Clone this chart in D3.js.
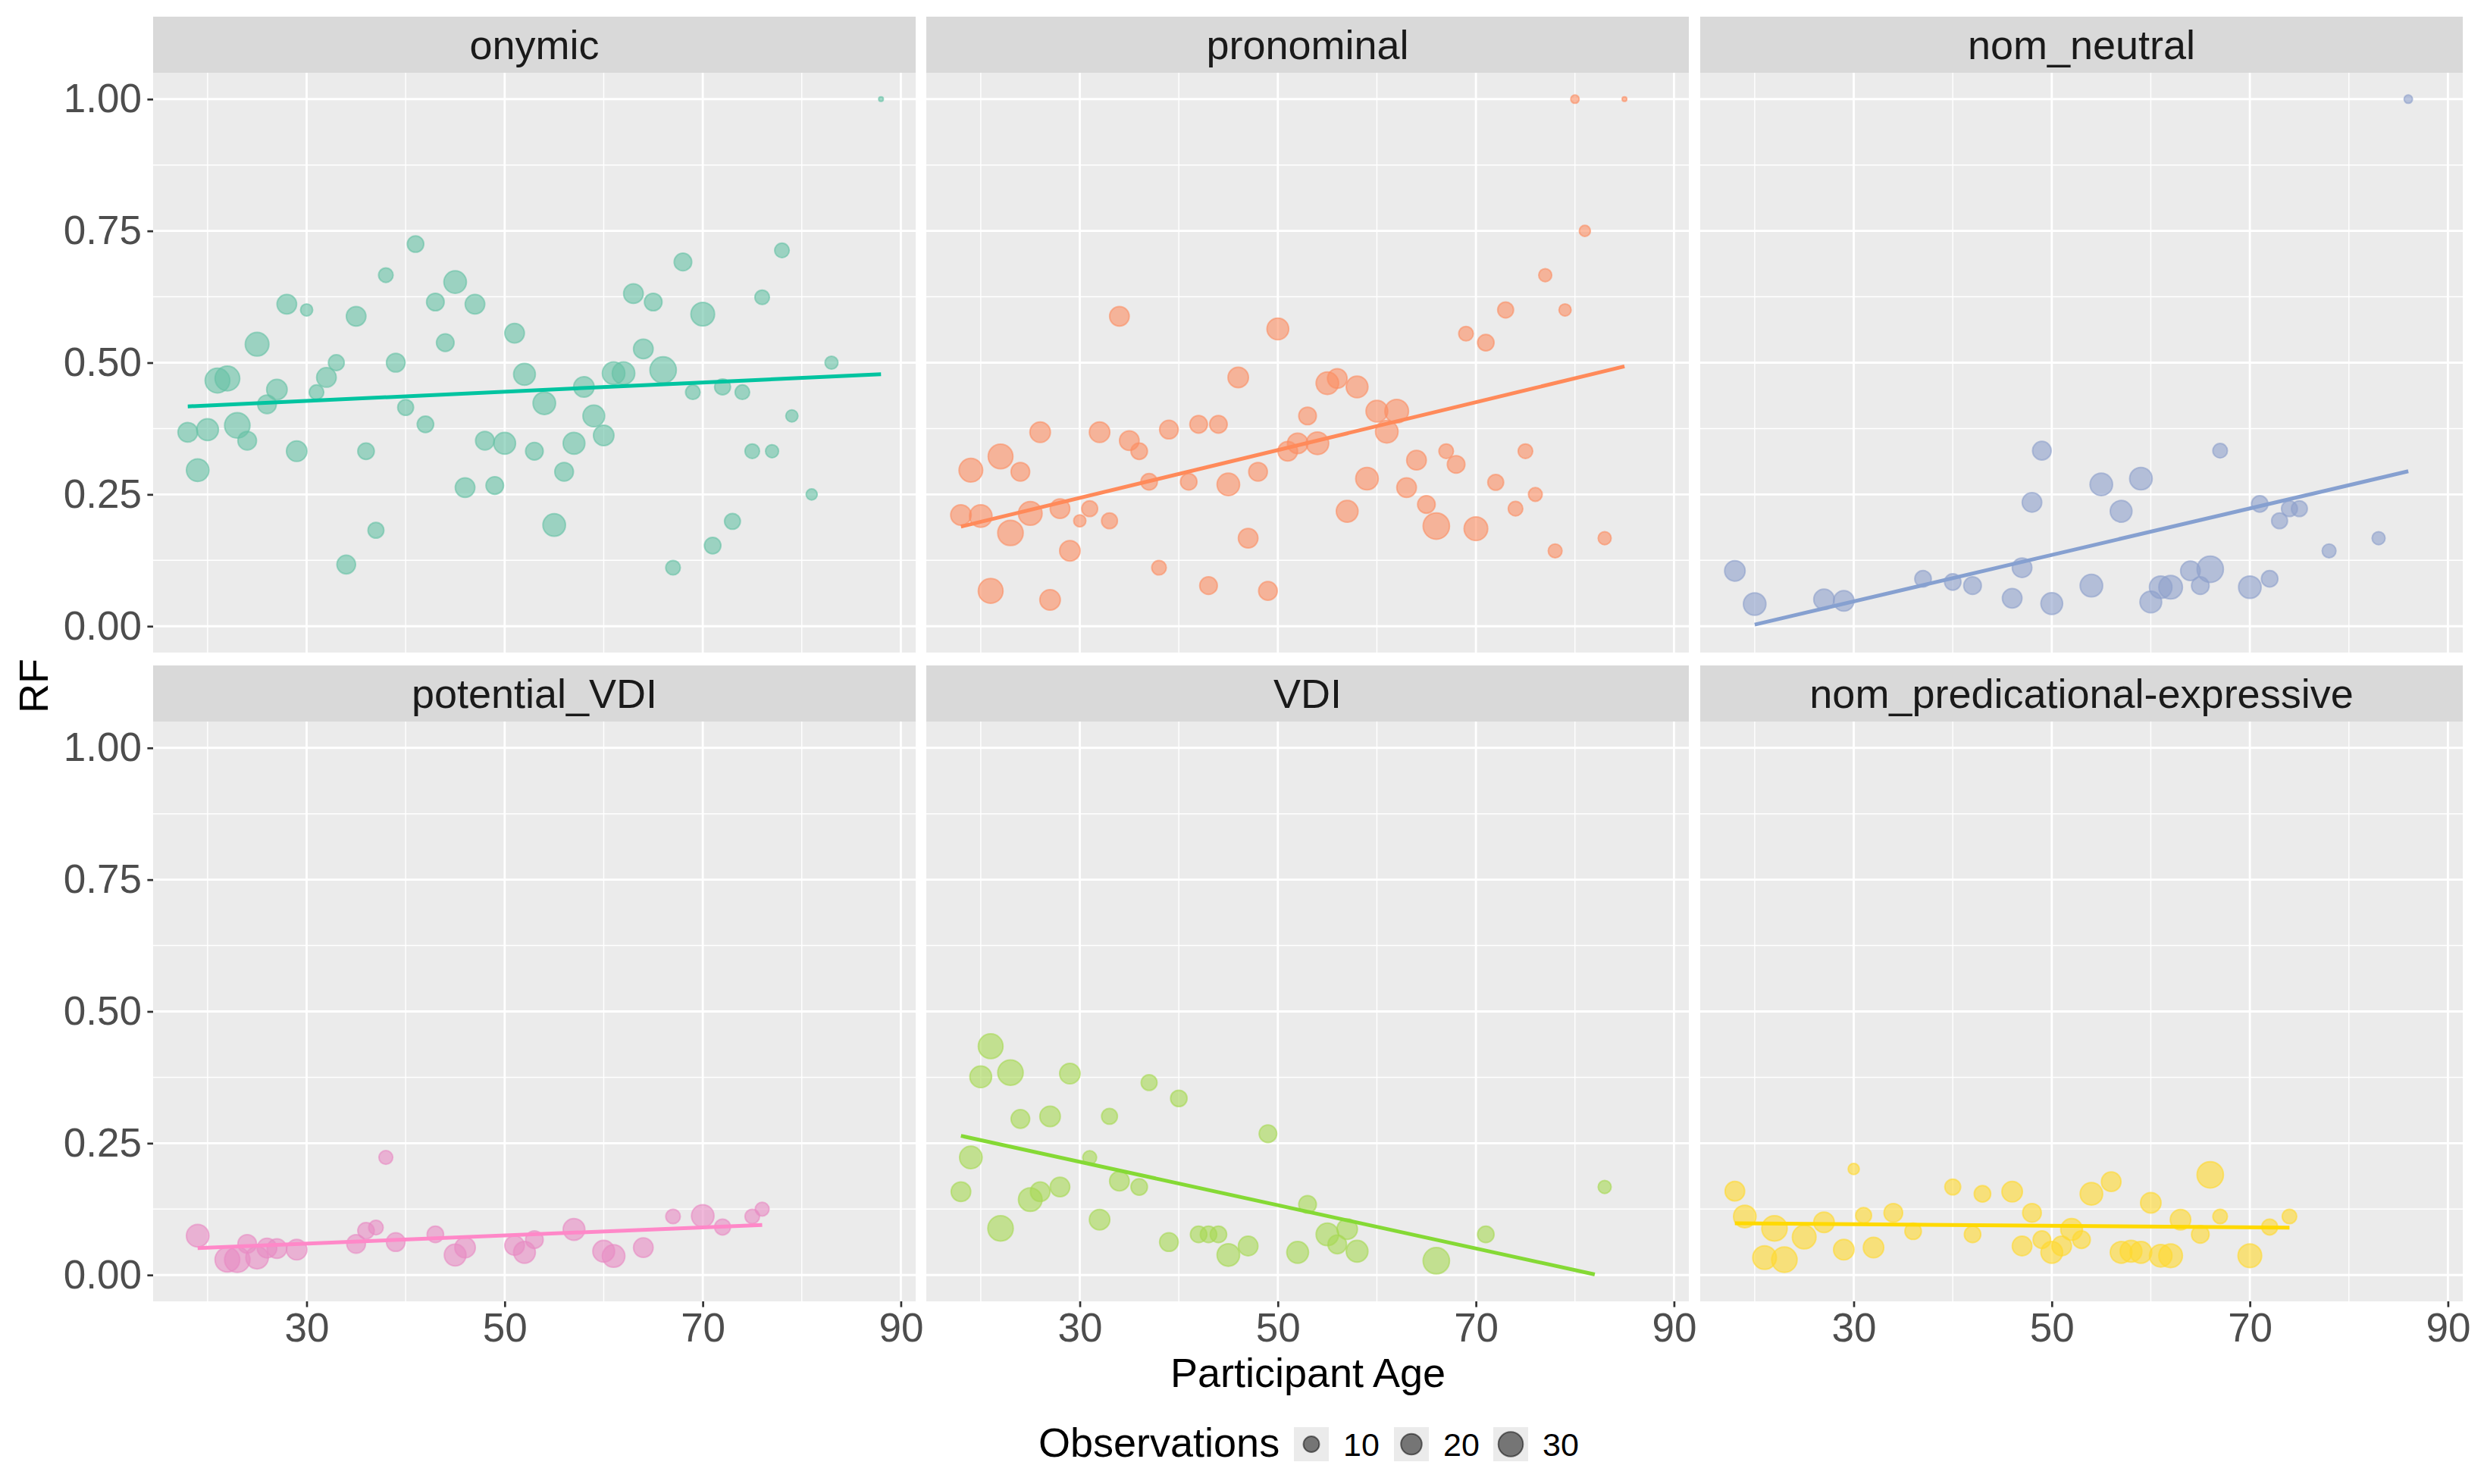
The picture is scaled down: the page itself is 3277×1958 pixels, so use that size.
<!DOCTYPE html>
<html>
<head>
<meta charset="utf-8">
<script src="https://cdn.jsdelivr.net/npm/d3@7"></script>
<style>
html,body{margin:0;padding:0;background:#fff;}
svg{display:block;font-family:"Liberation Sans",Arial,Helvetica,sans-serif;}
</style>
</head>
<body>
<svg id="chart" width="3277" height="1958"></svg>
<script>
// ---------- DATA (age, RF, observations) ----------
const facetNames = ["onymic","pronominal","nom_neutral","potential_VDI","VDI","nom_predicational-expressive"];
const pointColors = ["#66C2A5","#FC8D62","#8DA0CB","#E78AC3","#A6D854","#FFD92F"];
const lineColors  = ["#00C4A0","#FF8A5A","#86A0D0","#FF88C8","#85D935","#FFD900"];

const onymic = [[88,1.0,1],[41,0.725,11],[38,0.666,8],[78,0.713,8],[68,0.691,13],[45,0.653,24],[28,0.611,17],[30,0.600,5],[43,0.615,13],[47,0.611,17],[63,0.631,17],[65,0.615,13],[76,0.624,8],[35,0.588,17],[70,0.592,27],[25,0.535,27],[44,0.538,13],[51,0.556,17],[64,0.526,17],[33,0.5,10],[39,0.5,15],[83,0.5,6],[21,0.466,30],[22,0.470,30],[32,0.472,17],[52,0.478,22],[61,0.480,24],[62,0.480,24],[66,0.486,35],[27,0.449,19],[31,0.444,8],[58,0.454,19],[69,0.444,8],[72,0.454,10],[74,0.444,8],[26,0.421,15],[40,0.415,10],[54,0.423,24],[59,0.399,22],[79,0.399,5],[18,0.368,17],[20,0.373,22],[23,0.381,32],[42,0.383,11],[24,0.352,15],[48,0.352,15],[50,0.347,22],[57,0.347,22],[60,0.362,19],[29,0.332,19],[36,0.332,11],[53,0.332,13],[75,0.332,8],[77,0.332,6],[56,0.293,15],[19,0.296,24],[46,0.263,17],[49,0.267,13],[81,0.25,4],[55,0.192,24],[37,0.182,10],[73,0.199,10],[71,0.153,11],[34,0.117,15],[67,0.111,8]];
const pronominal = [[80,1.0,2],[85,1.0,1],[81,0.75,4],[77,0.666,6],[73,0.6,10],[79,0.6,5],[69,0.555,8],[71,0.538,11],[34,0.588,17],[50,0.564,22],[46,0.472,19],[55,0.461,24],[56,0.470,17],[58,0.454,22],[53,0.399,13],[60,0.408,22],[62,0.408,27],[61,0.369,24],[26,0.368,19],[32,0.368,19],[39,0.373,15],[42,0.383,13],[44,0.383,13],[35,0.352,17],[36,0.332,11],[52,0.347,19],[54,0.347,24],[51,0.332,17],[67,0.332,8],[75,0.332,8],[22,0.322,30],[19,0.296,27],[24,0.293,15],[48,0.293,15],[64,0.315,17],[68,0.307,13],[37,0.274,11],[41,0.274,11],[45,0.269,24],[59,0.280,24],[63,0.263,17],[72,0.273,10],[76,0.25,7],[18,0.211,19],[20,0.209,24],[25,0.214,27],[28,0.223,17],[30,0.2,5],[31,0.223,10],[33,0.2,10],[57,0.218,22],[65,0.231,13],[74,0.223,8],[66,0.19,35],[70,0.185,27],[23,0.177,32],[29,0.143,19],[47,0.167,17],[78,0.143,7],[83,0.167,6],[38,0.111,8],[21,0.067,30],[27,0.05,19],[43,0.077,13],[49,0.067,15]];
const nomNeutral = [[86,1.0,2],[49,0.333,15],[67,0.333,8],[55,0.269,24],[59,0.280,24],[48,0.235,17],[57,0.218,22],[71,0.232,11],[74,0.223,10],[75,0.223,10],[73,0.2,10],[78,0.143,7],[83,0.167,6],[18,0.105,19],[20,0.042,24],[27,0.051,19],[29,0.048,19],[37,0.09,11],[40,0.084,11],[42,0.077,13],[47,0.111,17],[46,0.053,17],[50,0.043,22],[54,0.077,24],[60,0.046,22],[61,0.074,24],[62,0.074,27],[64,0.105,17],[65,0.077,13],[66,0.108,35],[70,0.074,24],[72,0.09,11]];
const potentialVDI = [[19,0.0745,24],[22,0.029,30],[23,0.029,32],[24,0.059,15],[25,0.033,24],[26,0.051,17],[27,0.05,17],[29,0.048,19],[35,0.059,15],[36,0.084,11],[37,0.09,8],[38,0.223,7],[39,0.0625,15],[43,0.077,11],[45,0.038,22],[46,0.052,19],[51,0.056,17],[52,0.043,22],[53,0.067,13],[57,0.0865,22],[60,0.045,22],[61,0.036,24],[64,0.052,17],[67,0.111,8],[70,0.112,24],[72,0.091,10],[75,0.111,8],[76,0.125,7]];
const vdi = [[21,0.434,30],[20,0.376,22],[23,0.384,32],[29,0.382,19],[37,0.365,10],[40,0.335,11],[24,0.296,15],[27,0.301,19],[33,0.301,10],[49,0.268,13],[19,0.223,24],[31,0.2226,7],[18,0.158,17],[25,0.143,27],[26,0.158,17],[28,0.167,17],[34,0.178,17],[36,0.167,11],[53,0.134,13],[83,0.167,6],[22,0.0885,32],[32,0.105,19],[39,0.0625,15],[42,0.077,11],[43,0.077,11],[44,0.077,11],[45,0.038,24],[47,0.055,17],[52,0.043,22],[55,0.077,24],[56,0.058,15],[57,0.087,19],[58,0.045,22],[66,0.027,35],[71,0.077,11]];
const nomPredExpr = [[18,0.159,17],[19,0.111,24],[21,0.033,27],[22,0.0885,32],[23,0.029,32],[25,0.072,27],[27,0.1,19],[29,0.048,19],[30,0.201,4],[31,0.113,10],[32,0.052,19],[34,0.118,15],[36,0.083,11],[40,0.167,10],[42,0.077,11],[43,0.154,11],[46,0.158,19],[47,0.055,17],[48,0.118,15],[49,0.067,13],[50,0.043,22],[51,0.055,17],[52,0.0865,22],[53,0.067,13],[54,0.154,24],[56,0.177,17],[57,0.043,22],[58,0.045,22],[59,0.043,22],[60,0.137,19],[61,0.0365,24],[62,0.0365,27],[63,0.105,19],[65,0.077,13],[66,0.19,35],[67,0.111,8],[70,0.0365,27],[72,0.091,10],[74,0.111,8]];

// fitted linear trend ends [age, RF]
const fitOnymic = [[18,0.417],[88,0.478]];
const fitPronominal = [[18,0.189],[85,0.493]];
const fitNomNeutral = [[20,0.003],[86,0.294]];
const fitPotentialVDI = [[19,0.051],[76,0.095]];
const fitVDI = [[18,0.264],[82,0.001]];
const fitNomPredExpr = [[18,0.098],[74,0.090]];

const xTicks = [30,50,70,90];
const xMinor = [20,40,60,80];
const yTicks = [0,0.25,0.5,0.75,1];
const yMinor = [0.125,0.375,0.625,0.875];
const legendSizes = [10,20,30];
const xTitle = "Participant Age", yTitle = "RF", legendTitle = "Observations";

const facetPoints = [onymic,pronominal,nomNeutral,potentialVDI,vdi,nomPredExpr];
const facetFits = [fitOnymic,fitPronominal,fitNomNeutral,fitPotentialVDI,fitVDI,fitNomPredExpr];

// ---------- LAYOUT ----------
const svg = d3.select("#chart");
const colX = [202,1222,2243], rowY = [96,952];
const pw = 1006, ph = 765, stripH = 74;
const FS = 53;

const x = d3.scaleLinear().domain([14.5,91.5]).range([0,pw]);
const y = d3.scaleLinear().domain([-0.05,1.05]).range([ph,0]);
const r = d3.scaleSqrt().domain([0,34]).range([3.1,3.1+2.45*Math.sqrt(34)]);

facetNames.forEach((name,i)=>{
  const col = i%3, row = Math.floor(i/3);
  const g = svg.append("g").attr("transform",`translate(${colX[col]},${rowY[row]})`);
  // strip
  g.append("rect").attr("x",0).attr("y",-stripH).attr("width",pw).attr("height",stripH).attr("fill","#d9d9d9");
  g.append("text").attr("x",pw/2).attr("y",-stripH/2+19).attr("text-anchor","middle")
    .attr("font-size",54).attr("fill","#1a1a1a").text(name);
  // panel
  g.append("rect").attr("width",pw).attr("height",ph).attr("fill","#ebebeb");
  g.selectAll(".ymin").data(yMinor).join("line").attr("x1",0).attr("x2",pw)
    .attr("y1",d=>y(d)).attr("y2",d=>y(d)).attr("stroke","#fff").attr("stroke-width",1.4);
  g.selectAll(".xmin").data(xMinor).join("line").attr("y1",0).attr("y2",ph)
    .attr("x1",d=>x(d)).attr("x2",d=>x(d)).attr("stroke","#fff").attr("stroke-width",1.4);
  g.selectAll(".ymaj").data(yTicks).join("line").attr("x1",0).attr("x2",pw)
    .attr("y1",d=>y(d)).attr("y2",d=>y(d)).attr("stroke","#fff").attr("stroke-width",2.8);
  g.selectAll(".xmaj").data(xTicks).join("line").attr("y1",0).attr("y2",ph)
    .attr("x1",d=>x(d)).attr("x2",d=>x(d)).attr("stroke","#fff").attr("stroke-width",2.8);

  const clipId = "clip"+i;
  g.append("clipPath").attr("id",clipId).append("rect").attr("width",pw).attr("height",ph);
  const plot = g.append("g").attr("clip-path",`url(#${clipId})`);
  const pts = facetPoints[i];
  plot.selectAll("circle").data(pts).join("circle")
    .attr("cx",d=>x(d[0])).attr("cy",d=>y(d[1])).attr("r",d=>r(d[2]-1))
    .attr("fill",pointColors[i]).attr("fill-opacity",0.6)
    .attr("stroke",pointColors[i]).attr("stroke-opacity",0.6).attr("stroke-width",2);
  plot.append("path").datum(facetFits[i])
    .attr("d",d3.line().x(d=>x(d[0])).y(d=>y(d[1])))
    .attr("fill","none").attr("stroke",lineColors[i]).attr("stroke-width",5);

  // axes
  if(col===0){
    const ya = g.append("g").call(d3.axisLeft(y).tickValues(yTicks).tickFormat(d3.format(".2f")).tickSize(7.6).tickPadding(7.4));
    ya.select(".domain").remove();
    ya.selectAll("line").attr("stroke","#333").attr("stroke-width",2.7);
    ya.selectAll("text").attr("font-size",FS).attr("fill","#4d4d4d").attr("font-family","Liberation Sans, Arial, sans-serif");
  }
  if(row===1){
    const xa = g.append("g").attr("transform",`translate(0,${ph})`)
      .call(d3.axisBottom(x).tickValues(xTicks).tickSize(7.6).tickPadding(7.4));
    xa.select(".domain").remove();
    xa.selectAll("line").attr("stroke","#333").attr("stroke-width",2.7);
    xa.selectAll("text").attr("font-size",FS).attr("fill","#4d4d4d").attr("font-family","Liberation Sans, Arial, sans-serif");
  }
});

// axis titles
svg.append("text").attr("x",(colX[0]+colX[2]+pw)/2).attr("y",1830).attr("text-anchor","middle")
  .attr("font-size",54).attr("fill","#000").text(xTitle);
svg.append("text").attr("transform","translate(63,905) rotate(-90)").attr("text-anchor","middle")
  .attr("font-size",54).attr("fill","#000").text(yTitle);

// legend
const leg = svg.append("g");
leg.append("text").attr("x",1370).attr("y",1922).attr("font-size",54).attr("fill","#000").text(legendTitle);
const keyX = [1707,1839,1970];
legendSizes.forEach((s,k)=>{
  leg.append("rect").attr("x",keyX[k]).attr("y",1883).attr("width",46).attr("height",45).attr("fill","#ebebeb");
  leg.append("circle").attr("cx",keyX[k]+23).attr("cy",1905.5).attr("r",r(s-1))
    .attr("fill","#000").attr("fill-opacity",0.5).attr("stroke","#000").attr("stroke-opacity",0.5).attr("stroke-width",2);
  leg.append("text").attr("x",keyX[k]+65).attr("y",1921).attr("font-size",43).attr("fill","#000").text(s);
});
</script>
</body>
</html>
